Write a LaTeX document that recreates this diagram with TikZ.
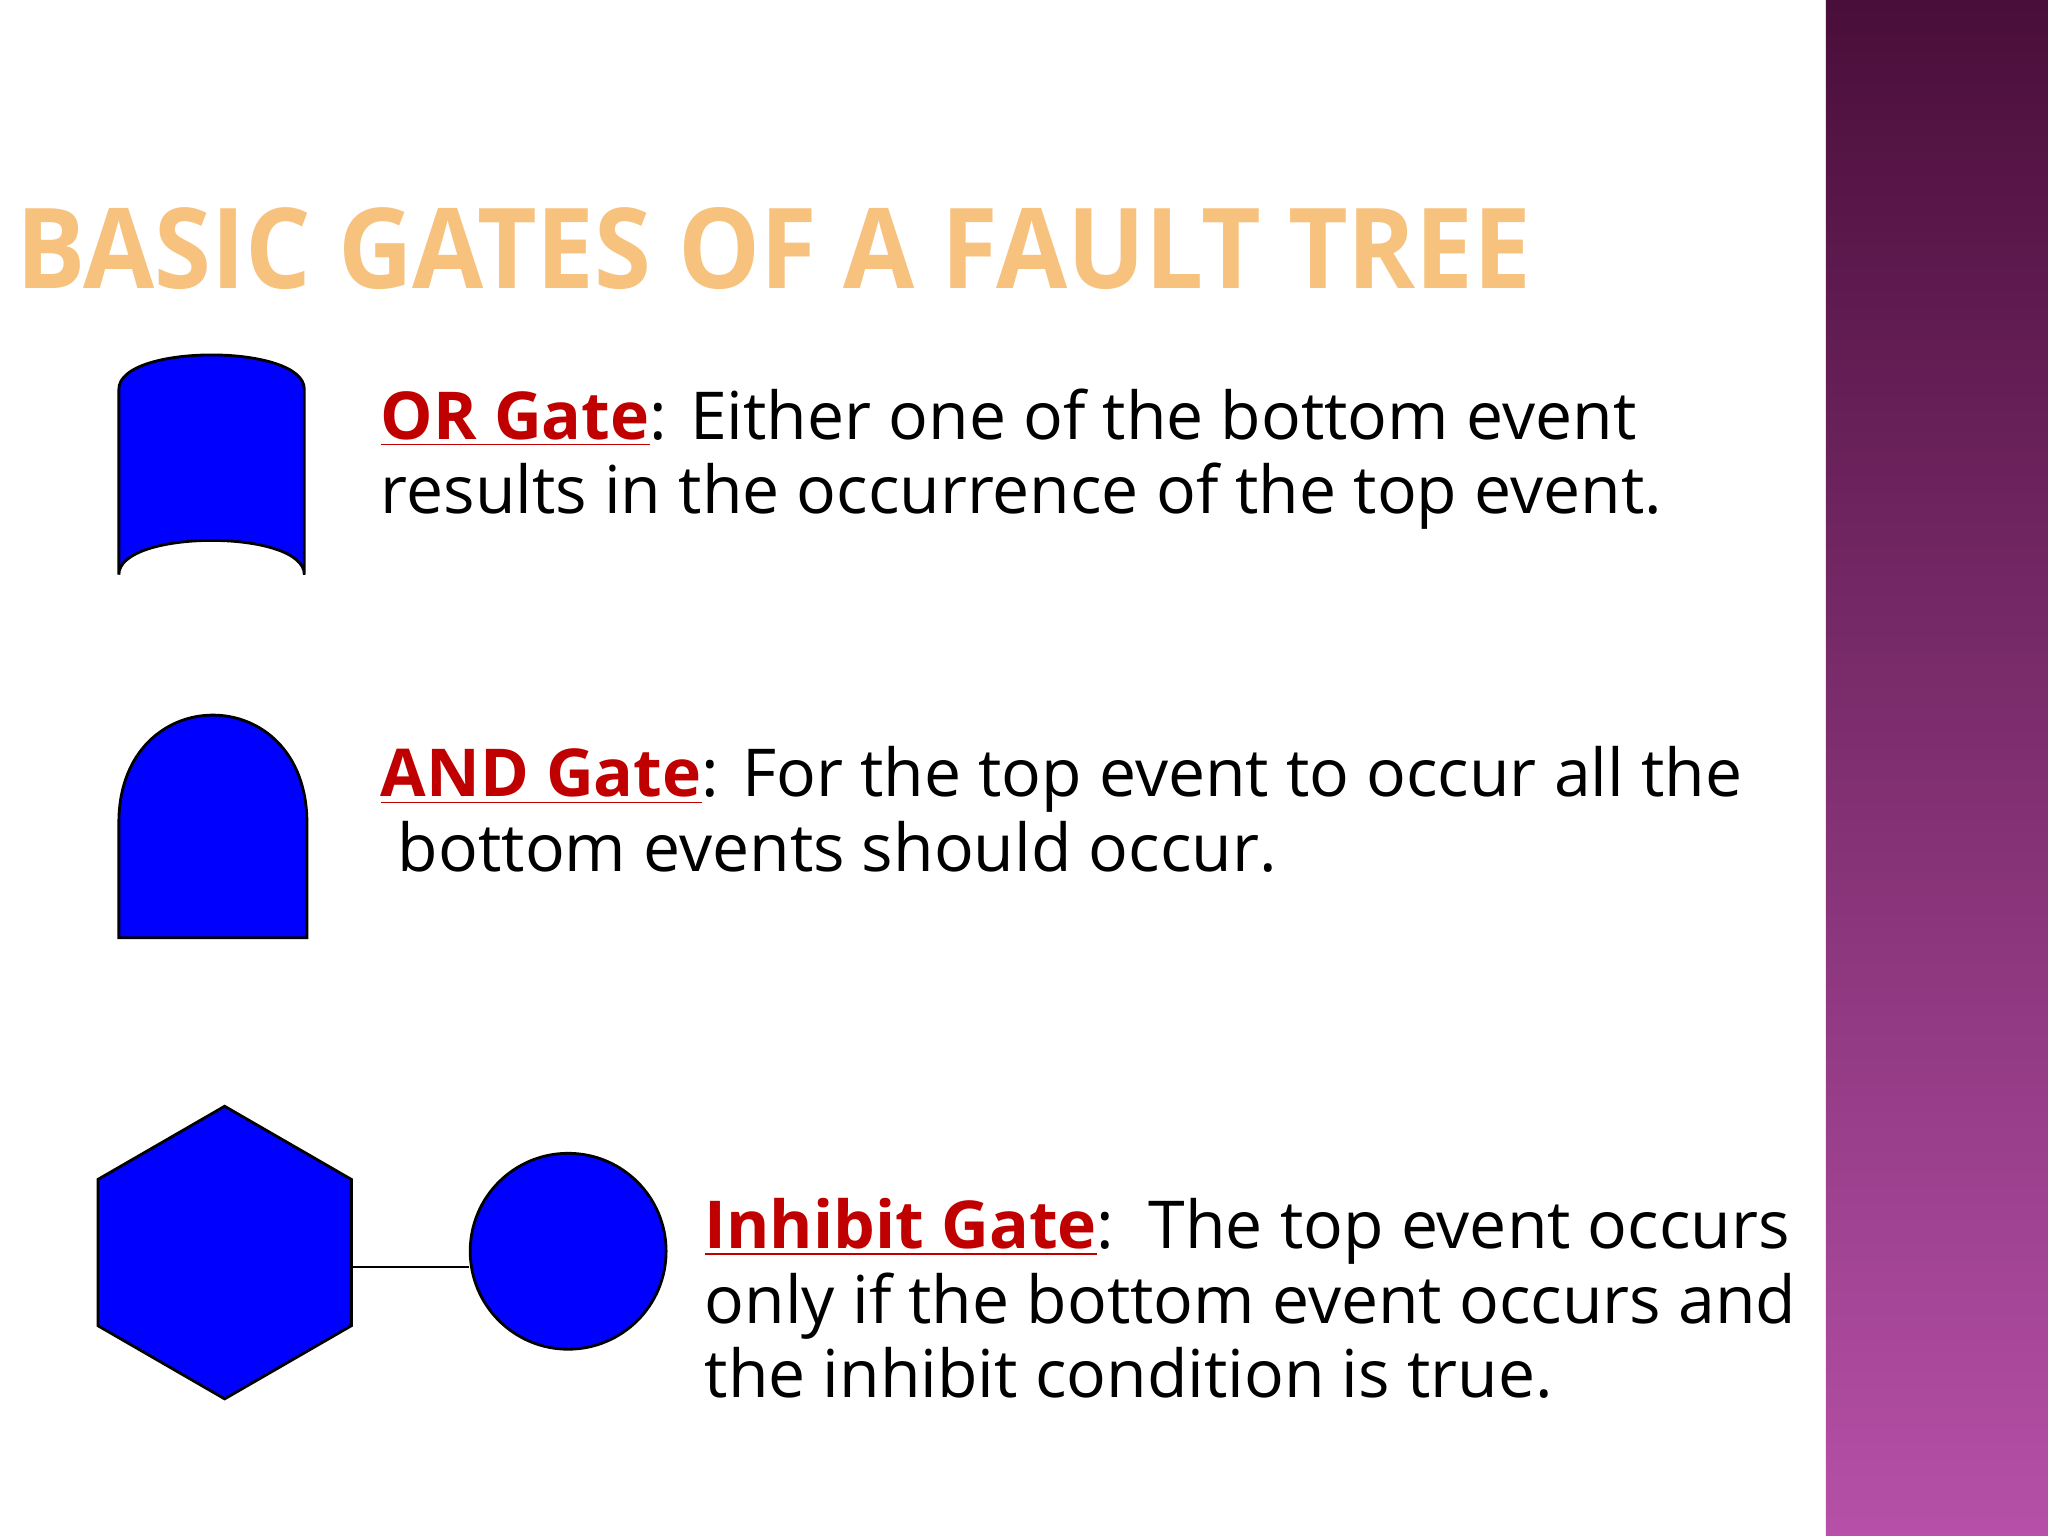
\documentclass[tikz,border=0pt]{standalone}
\usepackage{fontspec}
\setmainfont{Open Sans}
\usetikzlibrary{positioning,shapes.geometric}
\definecolor{gatered}{HTML}{C00000}
\definecolor{gateblue}{HTML}{0000FF}
\definecolor{barTop}{HTML}{4A0E3A}
\definecolor{barBot}{HTML}{B650A8}
\definecolor{titleFill}{HTML}{F6C27E}
\newcommand{\gatelabel}[1]{\textcolor{gatered}{\underline{\textbf{#1}}}}
\begin{document}
\begin{tikzpicture}[x=0.013061cm,y=-0.013061cm,
                    gate/.style={fill=gateblue,draw=black,line width=0.8pt},
                    desc/.style={anchor=north west,align=left,inner sep=0pt,
                                 font=\fontsize{18.8}{21.2}\selectfont}]
    \useasboundingbox (0,0) rectangle (1568,1176);
    \fill[white] (0,0) rectangle (1398,1176);
    \shade[top color=barTop,bottom color=barBot] (1398,0) rectangle (1568,1176);

    % title
    \node[anchor=south west,inner sep=0pt] (title) at (12,222)
        {\resizebox{15.15cm}{0.81cm}{\textcolor{titleFill}{\bfseries BASIC GATES OF A FAULT TREE}}};

    % OR gate
    \draw[gate] (91,440) -- (91,298) .. controls (91,263) and (233,263) .. (233,298)
        -- (233,440) .. controls (233,405) and (91,405) .. (91,440);
    \node[desc] (ortext) at (291,297)
        {\gatelabel{OR Gate}: Either one of the bottom event\\results in the occurrence of the top event.};

    % AND gate
    \draw[gate] (91,718) -- (91,630) .. controls (91,520) and (235,520) .. (235,630)
        -- (235,718) -- cycle;
    \node[desc] (andtext) at (291,571)
        {\gatelabel{AND Gate}: For the top event to occur all the\\\ bottom events should occur.};

    % Inhibit gate
    \node[gate,regular polygon,regular polygon sides=6,minimum size=2.926cm,
          shape border rotate=30,inner sep=0pt] (hex) at (172,959) {};
    \node[gate,circle,minimum size=1.959cm,inner sep=0pt] (cond) at (435,958) {};
    \draw[line width=0.8pt] (hex.east |- 0,970) -- (cond.west |- 0,970);
    \node[desc] (inhtext) at (539,917)
        {\gatelabel{Inhibit Gate}:\ \ The top event occurs\\only if the bottom event occurs and\\the inhibit condition is true.};
\end{tikzpicture}
\end{document}
